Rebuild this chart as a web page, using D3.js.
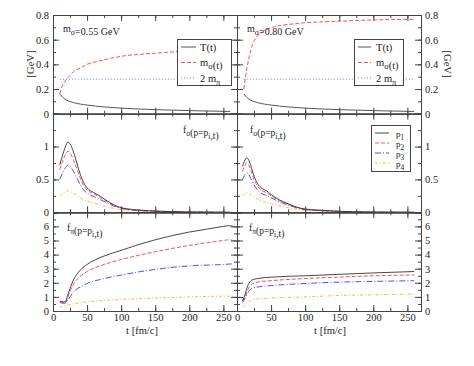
<!DOCTYPE html>
<html>
<head>
<meta charset="utf-8">
<script src="https://cdn.jsdelivr.net/npm/d3@7"></script>
<style>
  body { margin: 0; background: #fff; }
  svg text { font-family: "Liberation Serif", "Times New Roman", serif !important; fill: #222; }
</style>
</head>
<body>
<script>
// ---- data, [t (fm/c), value] ----
// top row: temperature and sigma mass [GeV]
var tempL = [[10,0.16],[15,0.13],[20,0.11],[30,0.09],[50,0.07],[75,0.055],[100,0.045],[150,0.033],[200,0.025],[260,0.018]];
var msigL = [[10,0.16],[12,0.2],[15,0.24],[20,0.28],[25,0.31],[30,0.34],[40,0.37],[50,0.40],[70,0.43],[100,0.465],[150,0.49],[200,0.51],[260,0.52]];
var tempR = [[10,0.16],[15,0.13],[20,0.11],[30,0.09],[50,0.07],[75,0.055],[100,0.045],[150,0.033],[200,0.025],[260,0.018]];
var msigR = [[10,0.2],[12,0.28],[15,0.38],[20,0.51],[27,0.61],[37,0.66],[52,0.70],[86,0.73],[150,0.75],[200,0.76],[260,0.765]];
var twoMpi = [[10,0.28],[260,0.28]];

// middle row: f_sigma at p1..p4
var fsigL = [
  [[10,0.72],[15,0.9],[20,1.04],[22,1.07],[25,1.04],[30,0.92],[35,0.75],[40,0.58],[45,0.45],[50,0.37],[60,0.3],[70,0.24],[80,0.17],[90,0.11],[100,0.07],[120,0.04],[150,0.02],[200,0.005],[260,0.0]],
  [[10,0.65],[15,0.8],[20,0.91],[22,0.93],[25,0.9],[30,0.8],[35,0.66],[40,0.52],[45,0.41],[50,0.34],[60,0.28],[70,0.22],[80,0.16],[90,0.1],[100,0.065],[120,0.035],[150,0.018],[200,0.005],[260,0.0]],
  [[10,0.5],[15,0.62],[20,0.7],[22,0.72],[25,0.7],[30,0.62],[35,0.52],[40,0.42],[45,0.34],[50,0.29],[60,0.24],[70,0.19],[80,0.14],[90,0.09],[100,0.06],[120,0.03],[150,0.015],[200,0.004],[260,0.0]],
  [[10,0.25],[15,0.29],[20,0.32],[22,0.33],[25,0.32],[30,0.29],[35,0.26],[40,0.22],[45,0.19],[50,0.17],[60,0.14],[70,0.11],[80,0.08],[90,0.06],[100,0.04],[120,0.025],[150,0.012],[200,0.003],[260,0.0]]
];
var fsigR = [
  [[8,0.7],[11,0.78],[14,0.83],[17,0.8],[20,0.72],[25,0.55],[30,0.44],[37,0.36],[43,0.33],[50,0.27],[62,0.19],[75,0.13],[87,0.08],[100,0.05],[125,0.03],[150,0.015],[200,0.004],[260,0.0]],
  [[8,0.62],[11,0.7],[14,0.75],[17,0.72],[20,0.65],[25,0.5],[30,0.4],[37,0.33],[43,0.3],[50,0.25],[62,0.18],[75,0.12],[87,0.075],[100,0.045],[125,0.028],[150,0.014],[200,0.004],[260,0.0]],
  [[8,0.5],[11,0.56],[14,0.6],[17,0.58],[20,0.52],[25,0.42],[30,0.34],[37,0.28],[43,0.26],[50,0.22],[62,0.16],[75,0.11],[87,0.07],[100,0.04],[125,0.025],[150,0.012],[200,0.003],[260,0.0]],
  [[8,0.25],[11,0.28],[14,0.3],[17,0.29],[20,0.27],[25,0.23],[30,0.2],[37,0.17],[43,0.15],[50,0.13],[62,0.1],[75,0.07],[87,0.05],[100,0.03],[125,0.02],[150,0.01],[200,0.003],[260,0.0]]
];

// bottom row: f_pi at p1..p4
var fpiL = [
  [[10,0.7],[15,0.65],[18,0.65],[22,1.2],[25,1.6],[30,2.2],[40,2.9],[50,3.3],[75,3.9],[100,4.3],[125,4.7],[150,5.05],[175,5.35],[200,5.6],[225,5.8],[250,6.0],[258,6.05],[265,6.0]],
  [[10,0.7],[15,0.6],[18,0.6],[22,1.0],[25,1.4],[30,1.9],[40,2.45],[50,2.8],[75,3.3],[100,3.65],[150,4.2],[200,4.65],[250,5.0],[258,5.05],[265,5.0]],
  [[10,0.6],[15,0.55],[18,0.55],[22,0.8],[25,1.0],[30,1.35],[40,1.7],[50,1.95],[75,2.3],[100,2.55],[150,2.95],[200,3.2],[250,3.3],[265,3.35]],
  [[10,0.25],[20,0.4],[30,0.5],[50,0.65],[75,0.75],[100,0.82],[150,0.92],[200,1.0],[250,1.05],[265,1.05]]
];
var fpiR = [
  [[8,0.7],[12,1.2],[15,1.7],[18,2.0],[22,2.2],[30,2.3],[50,2.4],[100,2.5],[150,2.6],[200,2.7],[260,2.8]],
  [[8,0.7],[12,1.0],[15,1.4],[18,1.7],[22,1.9],[30,2.05],[50,2.15],[100,2.3],[150,2.4],[200,2.5],[260,2.55]],
  [[8,0.6],[12,0.9],[15,1.2],[18,1.45],[22,1.6],[30,1.7],[50,1.8],[100,1.95],[150,2.05],[200,2.1],[260,2.15]],
  [[8,0.3],[12,0.45],[15,0.6],[20,0.75],[30,0.85],[50,0.92],[100,1.0],[150,1.1],[200,1.15],[260,1.2]]
];

var xTicks = [0, 50, 100, 150, 200, 250];
var rowDomains = [[0, 0.8], [0, 1.5], [0, 7]];
var rowTicks = [[0, 0.2, 0.4, 0.6, 0.8], [0, 0.5, 1], [0, 1, 2, 3, 4, 5, 6]];
var rowMinor = [0.1, 0.25, 0.5];

// ---- styles ----
var pStyles = [
  { color: '#333', dash: null },
  { color: '#ff3a3a', dash: '4,2' },
  { color: '#3a3aff', dash: '6,2,1,2' },
  { color: '#ffb020', dash: '3,2,1,2' }
];

var W = 474, H = 366;
var colX = [53, 237, 421];
var rowY = [15, 113.7, 212.3, 311];

var svg = d3.select('body').append('svg')
  .attr('width', W).attr('height', H)
  .attr('font-family', '"Liberation Serif", serif');

var x = [0, 1].map(function(c) {
  return d3.scaleLinear().domain([0, 270]).range([colX[c], colX[c + 1]]);
});
var y = [0, 1, 2].map(function(r) {
  return d3.scaleLinear().domain(rowDomains[r]).range([rowY[r + 1], rowY[r]]);
});

function minorTicks(dom, step) {
  return d3.range(dom[0], dom[1] + 1e-9, step);
}

// draw one panel frame with inward ticks
function drawFrame(c, r) {
  var g = svg.append('g');
  var xs = x[c], ys = y[r];
  var fmt = function(d) { return d3.format('~g')(d); };
  var mx = minorTicks([0, 270], 25);
  var my = minorTicks(rowDomains[r], rowMinor[r]);

  // minor ticks
  g.append('g').attr('transform', 'translate(0,' + rowY[r + 1] + ')')
    .call(d3.axisBottom(xs).tickValues(mx).tickSize(-3).tickFormat(''));
  g.append('g').attr('transform', 'translate(0,' + rowY[r] + ')')
    .call(d3.axisTop(xs).tickValues(mx).tickSize(-3).tickFormat(''));
  g.append('g').attr('transform', 'translate(' + colX[c] + ',0)')
    .call(d3.axisLeft(ys).tickValues(my).tickSize(-3).tickFormat(''));
  g.append('g').attr('transform', 'translate(' + colX[c + 1] + ',0)')
    .call(d3.axisRight(ys).tickValues(my).tickSize(-3).tickFormat(''));

  // major ticks
  g.append('g').attr('transform', 'translate(0,' + rowY[r + 1] + ')')
    .call(d3.axisBottom(xs).tickValues(xTicks).tickSize(-6).tickPadding(3)
      .tickFormat(r === 2 ? fmt : ''));
  g.append('g').attr('transform', 'translate(0,' + rowY[r] + ')')
    .call(d3.axisTop(xs).tickValues(xTicks).tickSize(-6).tickFormat(''));
  g.append('g').attr('transform', 'translate(' + colX[c] + ',0)')
    .call(d3.axisLeft(ys).tickValues(rowTicks[r]).tickSize(-6).tickPadding(4)
      .tickFormat(c === 0 ? fmt : ''));
  g.append('g').attr('transform', 'translate(' + colX[c + 1] + ',0)')
    .call(d3.axisRight(ys).tickValues(rowTicks[r]).tickSize(-6).tickPadding(4)
      .tickFormat(c === 1 ? fmt : ''));

  g.attr('font-family', null);
  g.selectAll('g').attr('font-family', null).attr('font-size', null);
  g.selectAll('.domain').attr('stroke', '#444');
  g.selectAll('.tick line').attr('stroke', '#444');
  g.selectAll('.tick text').style('font-size', '10.5px');
}

var line = function(c, r) {
  return d3.line()
    .x(function(d) { return x[c](d[0]); })
    .y(function(d) { return y[r](d[1]); })
    .curve(d3.curveMonotoneX);
};

function drawCurve(c, r, data, color, dash, width) {
  svg.append('path')
    .datum(data)
    .attr('d', line(c, r))
    .attr('fill', 'none')
    .attr('stroke', color)
    .attr('stroke-width', width || 0.9)
    .attr('stroke-dasharray', dash);
}

// ---- curves ----
drawCurve(0, 0, tempL, '#444', null);
drawCurve(0, 0, msigL, '#ff3a3a', '4,2');
drawCurve(0, 0, twoMpi, '#5070ff', '1,2');
drawCurve(1, 0, tempR, '#444', null);
drawCurve(1, 0, msigR, '#ff3a3a', '4,2');
drawCurve(1, 0, twoMpi, '#5070ff', '1,2');

[[0, 1, fsigL], [1, 1, fsigR], [0, 2, fpiL], [1, 2, fpiR]].forEach(function(p) {
  p[2].slice().reverse().forEach(function(series, k) {
    var i = p[2].length - 1 - k;
    drawCurve(p[0], p[1], series, pStyles[i].color, pStyles[i].dash);
  });
});

// ---- frames ----
[0, 1, 2].forEach(function(r) {
  [0, 1].forEach(function(c) { drawFrame(c, r); });
});

// ---- text helpers ----
function subText(xp, yp, parts, size, anchor) {
  var t = svg.append('text').attr('x', xp).attr('y', yp)
    .style('font-size', size + 'px')
    .attr('text-anchor', anchor || 'start');
  parts.forEach(function(p) {
    if (p.sub) {
      t.append('tspan').attr('dy', 3).style('font-size', (size * 0.8) + 'px').text(p.sub);
      t.append('tspan').attr('dy', -3).text('');
    } else {
      t.append('tspan').text(p.t);
    }
  });
  return t;
}

subText(63, 32, [{t: 'm'}, {sub: 'σ'}, {t: '=0.55 GeV'}], 10);
subText(247, 32, [{t: 'm'}, {sub: 'σ'}, {t: '=0.80 GeV'}], 10);
subText(183, 133, [{t: 'f'}, {sub: 'σ'}, {t: '(p=p'}, {sub: 'i'}, {t: ',t)'}], 9.5);
subText(250, 133, [{t: 'f'}, {sub: 'σ'}, {t: '(p=p'}, {sub: 'i'}, {t: ',t)'}], 9.5);
subText(67, 231, [{t: 'f'}, {sub: 'π'}, {t: '(p=p'}, {sub: 'i'}, {t: ',t)'}], 9.5);
subText(249, 231, [{t: 'f'}, {sub: 'π'}, {t: '(p=p'}, {sub: 'i'}, {t: ',t)'}], 9.5);

// axis titles
svg.append('text').attr('transform', 'translate(34,64) rotate(-90)')
  .attr('text-anchor', 'middle').style('font-size', '10.5px').text('[GeV]');
svg.append('text').attr('transform', 'translate(444,64) rotate(90)')
  .attr('text-anchor', 'middle').style('font-size', '10.5px').text('[GeV]');
svg.append('text').attr('x', 142).attr('y', 334)
  .attr('text-anchor', 'middle').style('font-size', '10.5px').text('t [fm/c]');
svg.append('text').attr('x', 330).attr('y', 334)
  .attr('text-anchor', 'middle').style('font-size', '10.5px').text('t [fm/c]');

// ---- legends ----
function legend(x0, y0, w, h, items, lx0, lx1, tx, dyStep, firstY, size) {
  svg.append('rect').attr('x', x0).attr('y', y0).attr('width', w).attr('height', h)
    .attr('fill', '#fff').attr('stroke', '#444').attr('stroke-width', 1);
  items.forEach(function(it, i) {
    var yy = firstY + i * dyStep;
    svg.append('line').attr('x1', lx0).attr('x2', lx1).attr('y1', yy).attr('y2', yy)
      .attr('stroke', it.color).attr('stroke-width', 0.9).attr('stroke-dasharray', it.dash);
    subText(tx, yy + 3.5, it.parts, size);
  });
}

var topItems = [
  { color: '#444', dash: null, parts: [{t: 'T(t)'}] },
  { color: '#ff3a3a', dash: '4,2', parts: [{t: 'm'}, {sub: 'σ'}, {t: '(t)'}] },
  { color: '#5070ff', dash: '1,2', parts: [{t: '2 m'}, {sub: 'π'}] }
];
legend(177.5, 39.5, 54, 46, topItems, 181, 196, 200, 15.5, 47, 10.5);
legend(354.5, 39.5, 49, 46, topItems, 358, 371, 376, 15.5, 47, 10.5);

var pItems = pStyles.map(function(s, i) {
  return { color: s.color, dash: s.dash, parts: [{t: 'p'}, {sub: String(i + 1)}] };
});
legend(371.5, 125.5, 39, 46, pItems, 375, 389, 396, 10, 133, 9);
</script>
</body>
</html>
